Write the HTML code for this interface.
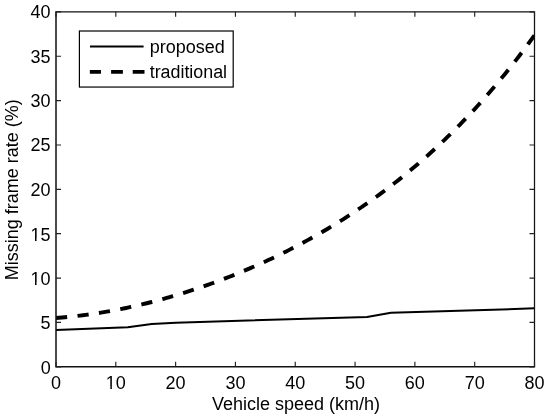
<!DOCTYPE html>
<html><head><meta charset="utf-8"><title>Missing frame rate vs vehicle speed</title>
<style>
html,body{margin:0;padding:0;background:#fff;}
body{width:550px;height:420px;overflow:hidden;}
svg{display:block;}
text{font-family:"Liberation Sans",sans-serif;font-size:18px;fill:#000;}
</style></head><body>
<svg width="550" height="420" viewBox="0 0 550 420">
<rect x="0" y="0" width="550" height="420" fill="#fff"/>
<defs><clipPath id="c"><rect x="56.0" y="11.85" width="478.5" height="354.95"/></clipPath></defs>
<g clip-path="url(#c)"><path d="M56.00,318.01 L58.99,317.77 L61.98,317.51 L64.97,317.24 L67.96,316.95 L70.95,316.64 L73.94,316.32 L76.93,315.98 L79.92,315.62 L82.92,315.25 L85.91,314.86 L88.90,314.45 L91.89,314.02 L94.88,313.58 L97.87,313.12 L100.86,312.65 L103.85,312.15 L106.84,311.64 L109.83,311.12 L112.82,310.57 L115.81,310.01 L118.80,309.43 L121.79,308.84 L124.78,308.23 L127.77,307.60 L130.77,306.95 L133.76,306.29 L136.75,305.62 L139.74,304.92 L142.73,304.21 L145.72,303.49 L148.71,302.75 L151.70,301.99 L154.69,301.21 L157.68,300.42 L160.67,299.62 L163.66,298.80 L166.65,297.96 L169.64,297.11 L172.63,296.24 L175.62,295.36 L178.62,294.46 L181.61,293.54 L184.60,292.61 L187.59,291.66 L190.58,290.70 L193.57,289.72 L196.56,288.73 L199.55,287.72 L202.54,286.69 L205.53,285.65 L208.52,284.60 L211.51,283.52 L214.50,282.43 L217.49,281.33 L220.48,280.21 L223.47,279.08 L226.47,277.92 L229.46,276.76 L232.45,275.57 L235.44,274.37 L238.43,273.16 L241.42,271.92 L244.41,270.67 L247.40,269.41 L250.39,268.13 L253.38,266.83 L256.37,265.51 L259.36,264.18 L262.35,262.83 L265.34,261.46 L268.33,260.07 L271.33,258.67 L274.32,257.25 L277.31,255.81 L280.30,254.36 L283.29,252.88 L286.28,251.39 L289.27,249.88 L292.26,248.35 L295.25,246.80 L298.24,245.23 L301.23,243.64 L304.22,242.04 L307.21,240.41 L310.20,238.76 L313.19,237.10 L316.18,235.41 L319.18,233.70 L322.17,231.98 L325.16,230.23 L328.15,228.46 L331.14,226.66 L334.13,224.85 L337.12,223.02 L340.11,221.16 L343.10,219.28 L346.09,217.37 L349.08,215.45 L352.07,213.50 L355.06,211.52 L358.05,209.52 L361.04,207.50 L364.03,205.46 L367.03,203.38 L370.02,201.29 L373.01,199.16 L376.00,197.01 L378.99,194.84 L381.98,192.64 L384.97,190.41 L387.96,188.15 L390.95,185.87 L393.94,183.56 L396.93,181.22 L399.92,178.85 L402.91,176.45 L405.90,174.02 L408.89,171.56 L411.88,169.08 L414.88,166.56 L417.87,164.01 L420.86,161.43 L423.85,158.81 L426.84,156.17 L429.83,153.49 L432.82,150.77 L435.81,148.03 L438.80,145.25 L441.79,142.43 L444.78,139.58 L447.77,136.70 L450.76,133.78 L453.75,130.82 L456.74,127.82 L459.73,124.79 L462.72,121.72 L465.72,118.61 L468.71,115.46 L471.70,112.27 L474.69,109.05 L477.68,105.78 L480.67,102.47 L483.66,99.12 L486.65,95.73 L489.64,92.29 L492.63,88.81 L495.62,85.29 L498.61,81.72 L501.60,78.11 L504.59,74.46 L507.58,70.75 L510.57,67.00 L513.57,63.21 L516.56,59.36 L519.55,55.47 L522.54,51.53 L525.53,47.54 L528.52,43.50 L531.51,39.40 L534.50,35.26" fill="none" stroke="#000" stroke-width="3.9" stroke-dasharray="11.2,10.43"/>
<path d="M56.00,329.89 L127.77,327.22 L151.70,323.94 L175.62,322.79 L367.03,316.89 L390.95,312.80 L534.50,308.37" fill="none" stroke="#000" stroke-width="2" stroke-linejoin="round"/></g>
<path d="M56.0,11.25V366.8H535.1" fill="none" stroke="#111" stroke-width="1.5" stroke-linejoin="miter"/>
<path d="M56.0,11.85H534.5V366.8" fill="none" stroke="#111" stroke-width="1.25" stroke-linejoin="miter"/>
<path d="M56.00,366.8v-5M56.00,11.85v5M115.81,366.8v-5M115.81,11.85v5M175.62,366.8v-5M175.62,11.85v5M235.44,366.8v-5M235.44,11.85v5M295.25,366.8v-5M295.25,11.85v5M355.06,366.8v-5M355.06,11.85v5M414.88,366.8v-5M414.88,11.85v5M474.69,366.8v-5M474.69,11.85v5M534.50,366.8v-5M534.50,11.85v5M56.0,366.80h5M534.5,366.80h-5M56.0,322.43h5M534.5,322.43h-5M56.0,278.06h5M534.5,278.06h-5M56.0,233.69h5M534.5,233.69h-5M56.0,189.33h5M534.5,189.33h-5M56.0,144.96h5M534.5,144.96h-5M56.0,100.59h5M534.5,100.59h-5M56.0,56.22h5M534.5,56.22h-5M56.0,11.85h5M534.5,11.85h-5" fill="none" stroke="#222" stroke-width="1.15"/>
<text x="56.00" y="388.7" text-anchor="middle">0</text>
<text x="115.81" y="388.7" text-anchor="middle">10</text>
<text x="175.62" y="388.7" text-anchor="middle">20</text>
<text x="235.44" y="388.7" text-anchor="middle">30</text>
<text x="295.25" y="388.7" text-anchor="middle">40</text>
<text x="355.06" y="388.7" text-anchor="middle">50</text>
<text x="414.88" y="388.7" text-anchor="middle">60</text>
<text x="474.69" y="388.7" text-anchor="middle">70</text>
<text x="534.50" y="388.7" text-anchor="middle">80</text>
<text x="50.8" y="373.60" text-anchor="end">0</text>
<text x="50.5" y="329.00" text-anchor="end">5</text>
<text x="50.5" y="285.30" text-anchor="end">10</text>
<text x="50.5" y="240.50" text-anchor="end">15</text>
<text x="50.5" y="195.80" text-anchor="end">20</text>
<text x="50.5" y="151.25" text-anchor="end">25</text>
<text x="50.5" y="107.20" text-anchor="end">30</text>
<text x="50.5" y="62.80" text-anchor="end">35</text>
<text x="50.5" y="18.30" text-anchor="end">40</text>
<rect x="106.40" y="386.70" width="3.90" height="2.8" fill="#fff"/><rect x="111.90" y="386.70" width="3.60" height="2.8" fill="#fff"/>
<rect x="31.07" y="282.70" width="3.90" height="2.8" fill="#fff"/><rect x="36.57" y="282.70" width="3.60" height="2.8" fill="#fff"/>
<rect x="31.07" y="238.70" width="3.90" height="2.8" fill="#fff"/><rect x="36.57" y="238.70" width="3.60" height="2.8" fill="#fff"/>
<text x="296" y="409.6" text-anchor="middle">Vehicle speed (km/h)</text>
<text transform="translate(18,189.7) rotate(-90)" text-anchor="middle">Missing frame rate (%)</text>
<rect x="79.4" y="31" width="153.8" height="56.05" fill="#fff" stroke="#000" stroke-width="1.2"/>
<path d="M90,46.45H143.6" stroke="#000" stroke-width="1.9" fill="none"/>
<path d="M89.85,71.85H100.95M111.1,71.85H122.9M132.7,71.85H144.5" stroke="#000" stroke-width="3.9" fill="none"/>
<text x="149.7" y="52.6">proposed</text>
<text x="149.7" y="78" textLength="77.4" lengthAdjust="spacingAndGlyphs">traditional</text>
</svg></body></html>
